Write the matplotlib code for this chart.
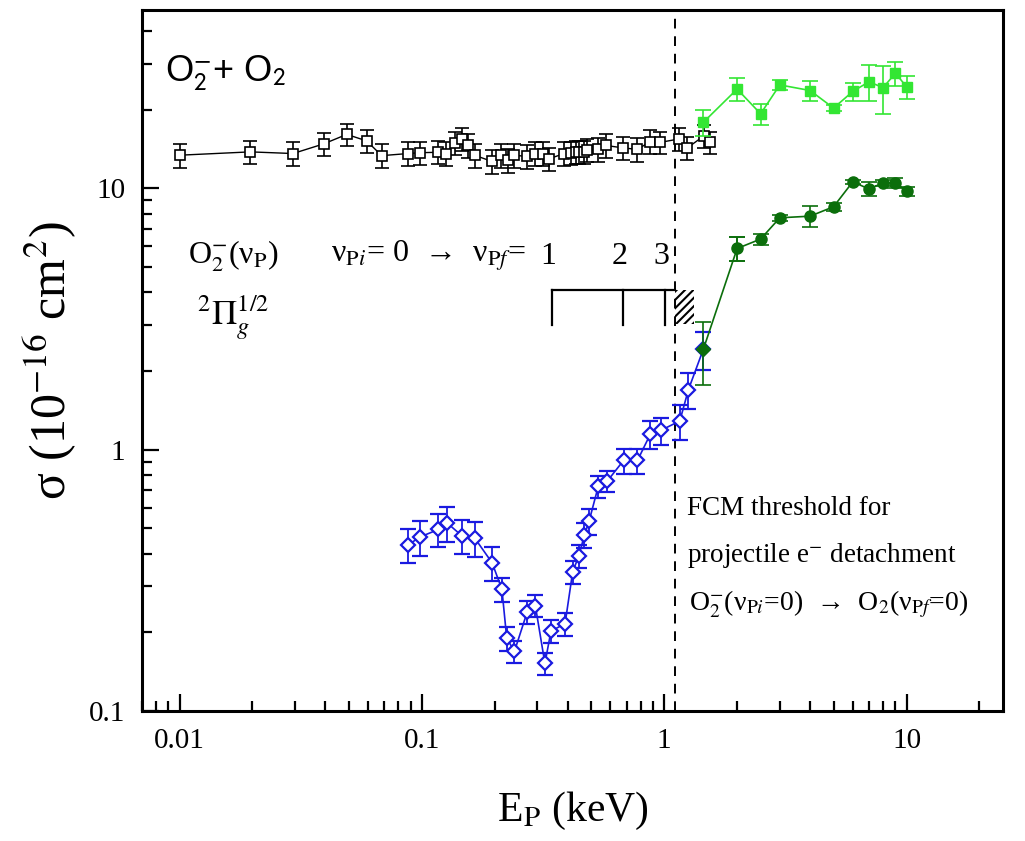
"""
Electron detachment cross sections for O2- + O2 collisions
"""
import matplotlib.pyplot as plt
from matplotlib.patches import Rectangle

plt.rcParams['font.family'] = ['Liberation Serif', 'DejaVu Serif']
plt.rcParams['mathtext.fontset'] = 'stix'
plt.rcParams['hatch.linewidth'] = 1.5

# total cross section (open black squares)
e_tot = [0.01, 0.0196, 0.0294, 0.0393, 0.049, 0.0592, 0.0683, 0.0879, 0.098, 0.117,
         0.1255, 0.137, 0.146, 0.155, 0.165, 0.194, 0.213, 0.227, 0.241, 0.271,
         0.292, 0.316, 0.336, 0.387, 0.413, 0.433, 0.447, 0.469, 0.482, 0.532,
         0.575, 0.674, 0.776, 0.873, 0.96, 1.146, 1.247, 1.46, 1.54]
s_tot = [13.4, 13.8, 13.6, 14.8, 16.1, 15.2, 13.35, 13.6, 13.7, 13.75,
         13.6, 14.9, 15.45, 14.6, 13.4, 12.7, 13.4, 12.8, 13.4, 13.25,
         13.6, 13.6, 13.0, 13.6, 13.7, 13.75, 13.8, 13.8, 14.0, 14.1,
         14.6, 14.3, 14.1, 15.1, 15.0, 15.45, 14.3, 15.9, 15.0]
err_tot = [1.4, 1.4, 1.4, 1.5, 1.6, 1.5, 1.4, 1.4, 1.4, 1.4,
           1.4, 1.5, 1.6, 1.5, 1.4, 1.3, 1.4, 1.3, 1.4, 1.4,
           1.4, 1.4, 1.3, 1.4, 1.4, 1.4, 1.4, 1.4, 1.4, 1.5,
           1.5, 1.5, 1.5, 1.6, 1.5, 1.6, 1.5, 1.6, 1.5]

# detachment, low energy (open blue diamonds)
e_low = [0.0879, 0.098, 0.117, 0.127, 0.146, 0.165, 0.195, 0.214, 0.224, 0.241,
         0.272, 0.294, 0.322, 0.341, 0.39, 0.419, 0.444, 0.469, 0.49, 0.535,
         0.581, 0.68, 0.776, 0.876, 0.969, 1.16, 1.259, 1.45]
s_low = [0.432, 0.463, 0.495, 0.525, 0.469, 0.46, 0.369, 0.292, 0.19, 0.169,
         0.239, 0.253, 0.152, 0.202, 0.216, 0.34, 0.392, 0.472, 0.533, 0.726,
         0.756, 0.91, 0.91, 1.145, 1.186, 1.288, 1.698, 2.42]
err_low = [0.065, 0.07, 0.07, 0.08, 0.07, 0.07, 0.055, 0.03, 0.02, 0.017,
           0.024, 0.025, 0.015, 0.02, 0.022, 0.035, 0.04, 0.05, 0.06, 0.07,
           0.07, 0.1, 0.1, 0.14, 0.14, 0.2, 0.27, 0.4]

# total cross section, high energy (filled light green squares)
e_hi_tot = [1.45, 2, 2.5, 3, 4, 5, 6, 7, 8, 9, 10]
s_hi_tot = [17.9, 24.0, 19.3, 24.9, 23.7, 20.3, 23.5, 25.6, 24.3, 27.6, 24.5]
err_hi_tot = [2.0, 2.4, 1.8, 1.0, 2.0, 0.5, 1.8, 4.0, 5.0, 3.0, 2.5]

# detachment, high energy (filled dark green circles)
e_hi = [1.45, 2, 2.5, 3, 4, 5, 6, 7, 8, 9, 10]
s_hi = [2.42, 5.89, 6.4, 7.72, 7.83, 8.51, 10.6, 9.95, 10.5, 10.5, 9.77]
err_hi = [0.65, 0.6, 0.3, 0.2, 0.7, 0.3, 0.2, 0.6, 0.3, 0.5, 0.4]

# vibrational thresholds nu_Pf = 1, 2, 3 and FCM threshold (keV)
e_vib = [0.343, 0.678, 1.009]
vib_labels = ['1', '2', '3']
e_fcm = 1.11

fig = plt.figure(figsize=(10.25, 8.41), dpi=100)
ax = fig.add_axes([0.1385, 0.1546, 0.84, 0.833])
ax.set_xscale('log')
ax.set_yscale('log')

ax.errorbar(e_tot, s_tot, yerr=err_tot, color='black', marker='s', ms=7, mfc='white',
            mec='black', mew=1.2, lw=1, capsize=5, elinewidth=1.2, capthick=1.2, zorder=3)
ax.errorbar(e_hi_tot, s_hi_tot, yerr=err_hi_tot, color='#33e633', marker='s', ms=7,
            mfc='#33e633', mec='#33e633', lw=1.2, capsize=6, elinewidth=1.2, capthick=1.2, zorder=4)
ax.errorbar(e_low, s_low, yerr=err_low, color='#1a1ae0', marker='D', ms=7, mfc='white',
            mec='#1a1ae0', mew=1.6, lw=1.2, capsize=6, elinewidth=1.3, capthick=1.3, zorder=4)
ax.errorbar(e_hi[1:], s_hi[1:], yerr=err_hi[1:], color='#0b6e0b', marker='o', ms=8,
            mfc='#0b6e0b', mec='#0b6e0b', lw=1.2, capsize=6, elinewidth=1.2, capthick=1.2, zorder=5)
ax.errorbar(e_hi[:2], s_hi[:2], yerr=err_hi[:2], color='#0b6e0b', fmt='-', lw=1.2,
            capsize=6, elinewidth=1.2, capthick=1.2, zorder=5)
ax.plot(e_hi[:1], s_hi[:1], 'D', ms=7, color='#0b6e0b', zorder=6)

ax.axvline(e_fcm, color='black', ls=(0, (5, 4)), lw=1.4, zorder=2)

# vibrational threshold bracket
ax.plot([e_vib[0], e_fcm], [4.07, 4.07], color='black', lw=1.6)
for e in e_vib:
    ax.plot([e, e], [3.0, 4.07], color='black', lw=1.6)
ax.add_patch(Rectangle((e_fcm, 3.04), 1.33 - e_fcm, 4.07 - 3.04, hatch='////',
                       fill=False, lw=0, edgecolor='black'))
for e, lab in zip(e_vib, vib_labels):
    ax.text(e * 0.97, 5.5, lab, fontsize=23, ha='center', va='center')
ax.text(0.042, 5.5, r'ν$_{\mathrm{P}i}$= 0  →  ν$_{\mathrm{P}f}$=',
        fontsize=23, ha='left', va='center')
ax.text(0.0108, 5.5, r'O$_2^{-}$(ν$_{\mathrm{P}}$)', fontsize=23, ha='left', va='center')
ax.text(0.0118, 3.2, r'$^2\Pi_g^{1/2}$', fontsize=25, ha='left', va='center')

ax.text(0.0087, 27.6, r'O$_\mathsf{2}^{-}$+ O$_\mathsf{2}$', fontsize=26, ha='left',
        va='center', family=['Liberation Sans', 'DejaVu Sans'])

ax.text(1.24, 0.594, 'FCM threshold for', fontsize=19.5, ha='left', va='center')
ax.text(1.24, 0.393, r'projectile e$^{-}$ detachment', fontsize=19.5, ha='left', va='center')
ax.text(1.27, 0.257, r'O$_2^{-}$(ν$_{\mathrm{P}i}$=0)  →  O$_2$(ν$_{\mathrm{P}f}$=0)',
        fontsize=20, ha='left', va='center')

ax.set_xlim(0.007, 25)
ax.set_ylim(0.1, 48)
ax.set_xticks([0.01, 0.1, 1, 10])
ax.set_xticklabels(['0.01', '0.1', '1', '10'])
ax.set_yticks([0.1, 1, 10])
ax.set_yticklabels(['0.1', '1', '10'])
ax.tick_params(which='both', direction='in', labelsize=21, width=1.6)
ax.tick_params(which='major', length=12, pad=12)
ax.tick_params(which='minor', length=7)
for s in ax.spines.values():
    s.set_linewidth(2.2)

ax.set_xlabel(r'E$_\mathrm{P}$ (keV)', fontsize=30, labelpad=26)
ax.set_ylabel(r'σ (10$^{-16}$ cm$^2$)', fontsize=36, labelpad=8)

plt.savefig('out.png', dpi=100)
